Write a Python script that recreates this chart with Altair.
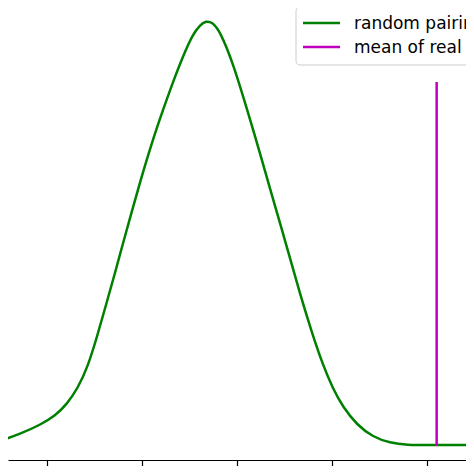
import altair as alt
import pandas as pd

# density curve of "random pairing" (x in axis units, ticks at 0..4)
curve_x = [-0.495, -0.284, -0.074, 0.084, 0.211, 0.326, 0.432, 0.526, 0.621, 0.716,
           0.789, 0.874, 0.979, 1.116, 1.221, 1.326, 1.432, 1.537, 1.611, 1.674,
           1.737, 1.821, 1.958, 2.105, 2.242, 2.379, 2.526, 2.663, 2.800, 2.905,
           3.011, 3.116, 3.263, 3.432, 3.611, 3.789, 4.032, 4.495, 4.874]
curve_y = [0.05, 0.12, 0.21, 0.30, 0.42, 0.58, 0.80, 1.09, 1.41, 1.73,
           1.99, 2.28, 2.64, 3.07, 3.36, 3.64, 3.90, 4.12, 4.21, 4.25,
           4.24, 4.15, 3.83, 3.37, 2.93, 2.47, 1.99, 1.52, 1.10, 0.81,
           0.57, 0.39, 0.21, 0.09, 0.03, 0.01, 0.01, 0.01, 0.01]

series_names = ["random pairing", "mean of real Data"]
series_colors = ["#008000", "#bf00bf"]

mean_x = [4.102]
mean_y0 = [0.0]
mean_y1 = [3.64]

tick_values = [0, 1, 2, 3, 4]

curve_df = pd.DataFrame({"x": curve_x, "y": curve_y, "series": series_names[0]})
mean_df = pd.DataFrame({"x": mean_x, "y": mean_y0, "y2": mean_y1, "series": series_names[1]})

xscale = alt.Scale(domain=[-0.4105, 4.832], nice=False, zero=False)
yscale = alt.Scale(domain=[-0.14, 4.38], nice=False, zero=False)
color = alt.Color(
    "series:N",
    scale=alt.Scale(domain=series_names, range=series_colors),
    legend=None,
)

xaxis = alt.Axis(values=tick_values, labels=False, title=None, grid=False,
                 tickSize=10, tickColor="#000000", domainColor="#000000",
                 tickWidth=1.2, domainWidth=1.2)

one = pd.DataFrame({"k": [0]})

# matplotlib-style legend: frame, handles and labels
frame = alt.Chart(one).mark_rect(
    fill="#ffffff", stroke="#cccccc", strokeWidth=1, cornerRadius=4
).encode(
    x=alt.value(288), x2=alt.value(600), y=alt.value(-1), y2=alt.value(57)
)

legend_layers = []
for i, (name, col) in enumerate(zip(series_names, series_colors)):
    row_y = 15 + 24 * i
    legend_layers.append(
        alt.Chart(one).mark_rule(color=col, strokeWidth=2.5).encode(
            x=alt.value(295), x2=alt.value(332), y=alt.value(row_y)
        )
    )
    legend_layers.append(
        alt.Chart(one).mark_text(
            text=name, align="left", baseline="middle", font="DejaVu Sans",
            fontSize=17, color="#000000"
        ).encode(x=alt.value(346), y=alt.value(row_y + 1))
    )

line = alt.Chart(curve_df).mark_line(strokeWidth=2.5, interpolate="basis", clip=True).encode(
    x=alt.X("x:Q", scale=xscale, axis=xaxis),
    y=alt.Y("y:Q", scale=yscale, axis=None),
    color=color,
)

rule = alt.Chart(mean_df).mark_rule(strokeWidth=2.5, clip=True).encode(
    x=alt.X("x:Q", scale=xscale),
    y=alt.Y("y:Q", scale=yscale),
    y2="y2:Q",
    color=color,
)

chart = alt.layer(line, rule, frame, *legend_layers).properties(
    width=498,
    height=452,
    autosize=alt.AutoSizeParams(type="none"),
    padding={"left": 0, "top": 0, "right": -40, "bottom": 6},
).configure_view(strokeWidth=0)

chart.save("out.html", embed_options={"renderer": "svg", "actions": False})
